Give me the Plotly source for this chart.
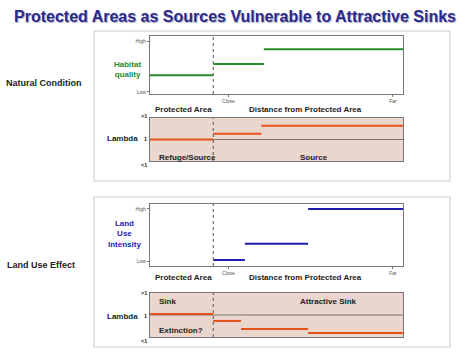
import plotly.graph_objects as go

# ---------------- data ----------------
# distance axis: 0-25 = protected area, 25-100 = distance from protected area
habitat_start = [0, 25, 45]
habitat_end = [25, 45, 100]
habitat_quality = [0.33, 0.55, 0.84]

lambda1_start = [0, 25, 44]
lambda1_end = [25, 44, 100]
lambda1_values = [0.0, 0.27, 0.64]

landuse_start = [25, 37.5, 62.5]
landuse_end = [37.5, 62.5, 100]
landuse_intensity = [0.02, 0.33, 1.0]

lambda2_start = [0, 25, 36, 62.5]
lambda2_end = [25, 36, 62.5, 100]
lambda2_values = [0.05, -0.27, -0.64, -0.82]

dist_tick_vals = [31, 96]
dist_tick_text = ["Close", "Far"]
level_tick_vals = [0, 1]
level_tick_text = ["Low", "High"]
lambda_tick_text = [">1", "1", "<1"]

W, H = 474, 355
GREEN = "#2a8a2a"
ORANGE = "#e8501e"
BLUE = "#1c1cb0"
PINK = "#ead6cc"
DARK = "#222222"
FONT = "Liberation Sans, Arial, sans-serif"


def px_x(p):
    return p / W


def px_y(p):
    return 1 - p / H


def segs(starts, ends, vals):
    xs, ys = [], []
    for s, e, v in zip(starts, ends, vals):
        xs += [s, e, None]
        ys += [v, v, None]
    return xs, ys


fig = go.Figure()

series = [
    (habitat_start, habitat_end, habitat_quality, GREEN, "x", "y"),
    (lambda1_start, lambda1_end, lambda1_values, ORANGE, "x2", "y2"),
    (landuse_start, landuse_end, landuse_intensity, BLUE, "x3", "y3"),
    (lambda2_start, lambda2_end, lambda2_values, ORANGE, "x4", "y4"),
]
for s, e, v, c, xa, ya in series:
    xs, ys = segs(s, e, v)
    fig.add_trace(go.Scatter(x=xs, y=ys, mode="lines", line=dict(color=c, width=2),
                             xaxis=xa, yaxis=ya, showlegend=False, hoverinfo="skip"))

xdom = [px_x(150), px_x(403)]
boxes = {
    "": (36, 94, [-0.04, 1.1]),
    "2": (118, 161, [-1, 1]),
    "3": (204, 266, [-0.096, 1.096]),
    "4": (293, 337, [-1, 1]),
}
axis_common = dict(showline=True, mirror=True, linecolor="#777777", linewidth=1.2,
                   showgrid=False, zeroline=False, fixedrange=True)
layout = dict(width=W, height=H, margin=dict(l=0, r=0, t=0, b=0),
              paper_bgcolor="white", plot_bgcolor="rgba(0,0,0,0)",
              font=dict(family=FONT, color=DARK))
for k, (top, bot, yr) in boxes.items():
    xa = dict(axis_common, domain=xdom, range=[0, 100], anchor="y" + k)
    ya = dict(axis_common, domain=[px_y(bot), px_y(top)], range=yr, anchor="x" + k)
    if k in ("", "3"):
        xa.update(tickvals=dist_tick_vals, ticktext=dist_tick_text, ticks="outside",
                  ticklen=2, tickcolor="#777", tickfont=dict(size=5, color="#555"))
        ya.update(tickvals=level_tick_vals, ticktext=level_tick_text, ticks="outside",
                  ticklen=2, tickcolor="#777", tickfont=dict(size=5, color="#555"))
    else:
        xa.update(showticklabels=False, ticks="")
        ya.update(showticklabels=False, ticks="")
    layout["xaxis" + k] = xa
    layout["yaxis" + k] = ya

shapes = []
# panel frames
for t, b in [(31, 181), (197, 347)]:
    shapes.append(dict(type="rect", xref="paper", yref="paper", x0=px_x(94), x1=px_x(450),
                       y0=px_y(b), y1=px_y(t), line=dict(color="#cccccc", width=1),
                       fillcolor="rgba(0,0,0,0)", layer="below"))
# lambda backgrounds and reference line at lambda = 1
for k in ("2", "4"):
    shapes.append(dict(type="rect", xref="x%s domain" % k, yref="y%s domain" % k,
                       x0=0, x1=1, y0=0, y1=1, fillcolor=PINK, line=dict(width=0), layer="below"))
    shapes.append(dict(type="line", xref="x%s domain" % k, yref="y" + k, x0=0, x1=1, y0=0, y1=0,
                       line=dict(color="#777777", width=1), layer="below"))
# dotted boundary of protected area
for k in ("", "2", "3", "4"):
    shapes.append(dict(type="line", xref="x" + k, yref="y%s domain" % k, x0=25, x1=25, y0=0, y1=1,
                       line=dict(color="#555555", width=1, dash="dot")))
layout["shapes"] = shapes

ann = []


def txt(text, x, y, size=8, color=DARK, bold=True, xanchor="center"):
    ann.append(dict(text=("<b>%s</b>" % text) if bold else text, x=px_x(x),
                    y=px_y(y), xref="paper", yref="paper",
                    xanchor=xanchor, yanchor="middle", showarrow=False,
                    font=dict(size=size, color=color, family=FONT)))


TITLE = "<b>Protected Areas as Sources Vulnerable to Attractive Sinks</b>"
ann.append(dict(text=TITLE, x=px_x(236), y=px_y(17), xref="paper", yref="paper",
                showarrow=False, xanchor="center", yanchor="middle",
                font=dict(size=16, color="#b8b8c8", family=FONT)))
ann.append(dict(text=TITLE, x=px_x(235), y=px_y(16), xref="paper", yref="paper",
                showarrow=False, xanchor="center", yanchor="middle",
                font=dict(size=16, color="#2b2a8c", family=FONT)))

txt("Natural Condition", 43.5, 83, size=9)
txt("Land Use Effect", 41, 265, size=9)
txt("Habitat<br>quality", 127, 69.5, size=8, color=GREEN)
txt("Land<br>Use<br>Intensity", 124, 233.5, size=8, color=BLUE)
for y in (109, 277):
    txt("Protected Area", 183, y)
    txt("Distance from Protected Area", 305, y)
txt("Lambda", 122, 139)
txt("Lambda", 122, 316)
txt("Refuge/Source", 187, 157)
txt("Source", 314, 157)
txt("Sink", 167, 301)
txt("Attractive Sink", 328, 301)
txt("Extinction?", 181, 330)
# lambda level labels (>1 above box top, 1 at the reference line, <1 below box bottom)
for ys in [(116, 139.5, 164.5), (292.5, 315.5, 340.5)]:
    for lab, y in zip(lambda_tick_text, ys):
        txt(lab, 149, y, size=5.5, xanchor="right")
layout["annotations"] = ann

fig.update_layout(**layout)
fig.write_html("out.html")
